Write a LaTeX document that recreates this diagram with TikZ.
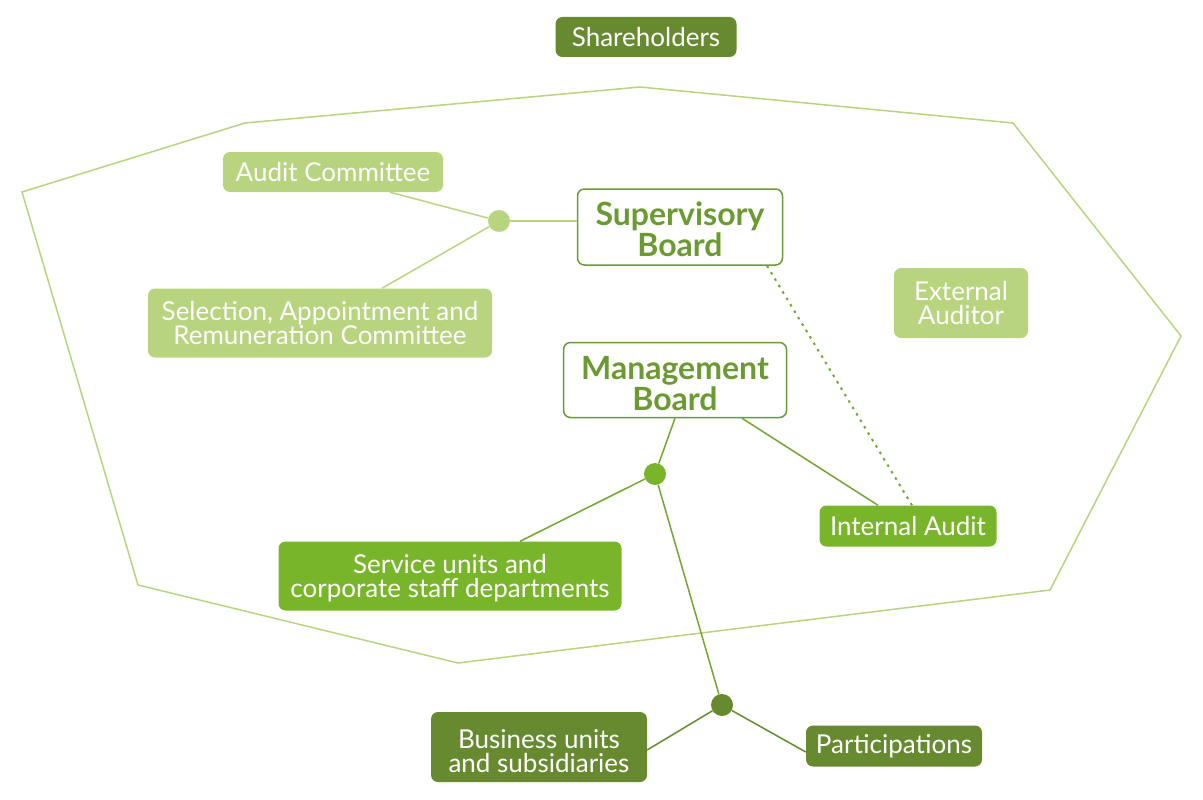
\documentclass[tikz,border=0pt]{standalone}
\usepackage{fontspec}
\setmainfont{Lato}
\definecolor{darkg}{HTML}{678A30}
\definecolor{lightg}{HTML}{B8D47F}
\definecolor{brightg}{HTML}{78B52A}
\definecolor{boardg}{HTML}{6B9A32}
\definecolor{lineg}{HTML}{73A532}
\newcommand{\topstrut}[1]{\rule{0pt}{#1}}
\begin{document}
\begin{tikzpicture}[x=1pt,y=-1pt,
  box/.style={rounded corners=7pt, inner sep=0pt, align=center, text=white, font=\fontsize{26}{24}\selectfont},
  darkbox/.style={box, fill=darkg},
  lightbox/.style={box, fill=lightg},
  brightbox/.style={box, fill=brightg},
  boardbox/.style={rounded corners=7pt, inner sep=0pt, align=center, draw=boardg, line width=1.5pt, fill=white, text=boardg, font=\bfseries\fontsize{32}{31}\selectfont},
  dot/.style={circle, inner sep=0pt, minimum size=22pt},
  lnlight/.style={draw=lightg, line width=1.5pt},
  lnmid/.style={draw=lineg, line width=1.5pt},
  lndark/.style={draw=darkg, line width=1.5pt}]
\useasboundingbox (0,0) rectangle (1203,800);
% boundary polygon
\draw[lightg, line width=1.5pt] (22,192) -- (245,123) -- (640,87) -- (1013,123) -- (1181,336) -- (1050,590) -- (458,663) -- (138,585) -- cycle;
% nodes
\node[darkbox, minimum width=181pt, minimum height=40pt] (sh) at (646,37) {Shareholders};
\node[lightbox, minimum width=220pt, minimum height=40pt] (ac) at (333,172) {Audit Committee};
\node[boardbox, minimum width=205pt, minimum height=76pt] (sb) at (680,227) {\topstrut{29pt}Supervisory\\Board};
\node[lightbox, minimum width=344pt, minimum height=69pt] (sel) at (320,323) {Selection, Appointment and\\Remuneration Committee};
\node[lightbox, minimum width=134pt, minimum height=70pt] (ea) at (961,303) {External\\Auditor};
\node[boardbox, minimum width=223pt, minimum height=75pt] (mb) at (675,380) {\topstrut{31pt}Management\\Board};
\node[brightbox, minimum width=177pt, minimum height=41pt] (ia) at (908,526) {Internal Audit};
\node[brightbox, minimum width=343pt, minimum height=69pt] (su) at (450,576) {\topstrut{23pt}Service units and\\corporate staff departments};
\node[darkbox, minimum width=216pt, minimum height=70pt] (bu) at (539,747) {\topstrut{27pt}Business units\\and subsidiaries};
\node[darkbox, minimum width=176pt, minimum height=41pt] (pa) at (894,746) {Participations};
\node[dot, fill=lightg] (d1) at (499,221) {};
\node[dot, fill=brightg] (d2) at (655,474) {};
\node[dot, fill=darkg] (d3) at (722,705) {};
% connectors
\coordinate (acb) at ([xshift=57pt]ac.south);
\coordinate (selt) at ([xshift=62pt]sel.north);
\path[lnlight] (acb) -- (d1);
\path[lnlight] (selt) -- (d1);
\path[lnlight] (d1) -- (sb.west |- d1);
\draw[lineg, line width=2pt, dash pattern=on 2.5pt off 5pt] ([xshift=87pt]sb.south) -- ([xshift=4pt]ia.north);
\path[lnmid] (mb.south) -- (d2);
\path[lnmid] ([xshift=67pt]mb.south) -- ([xshift=-30pt]ia.north);
\path[lnmid] (d2) -- ([xshift=70pt]su.north);
\path[lnmid] (d2) -- (d3);
\path[lndark] (d3) -- ([yshift=-3pt]bu.east);
\path[lndark] (d3) -- ([yshift=-6pt]pa.west);
\end{tikzpicture}
\end{document}
